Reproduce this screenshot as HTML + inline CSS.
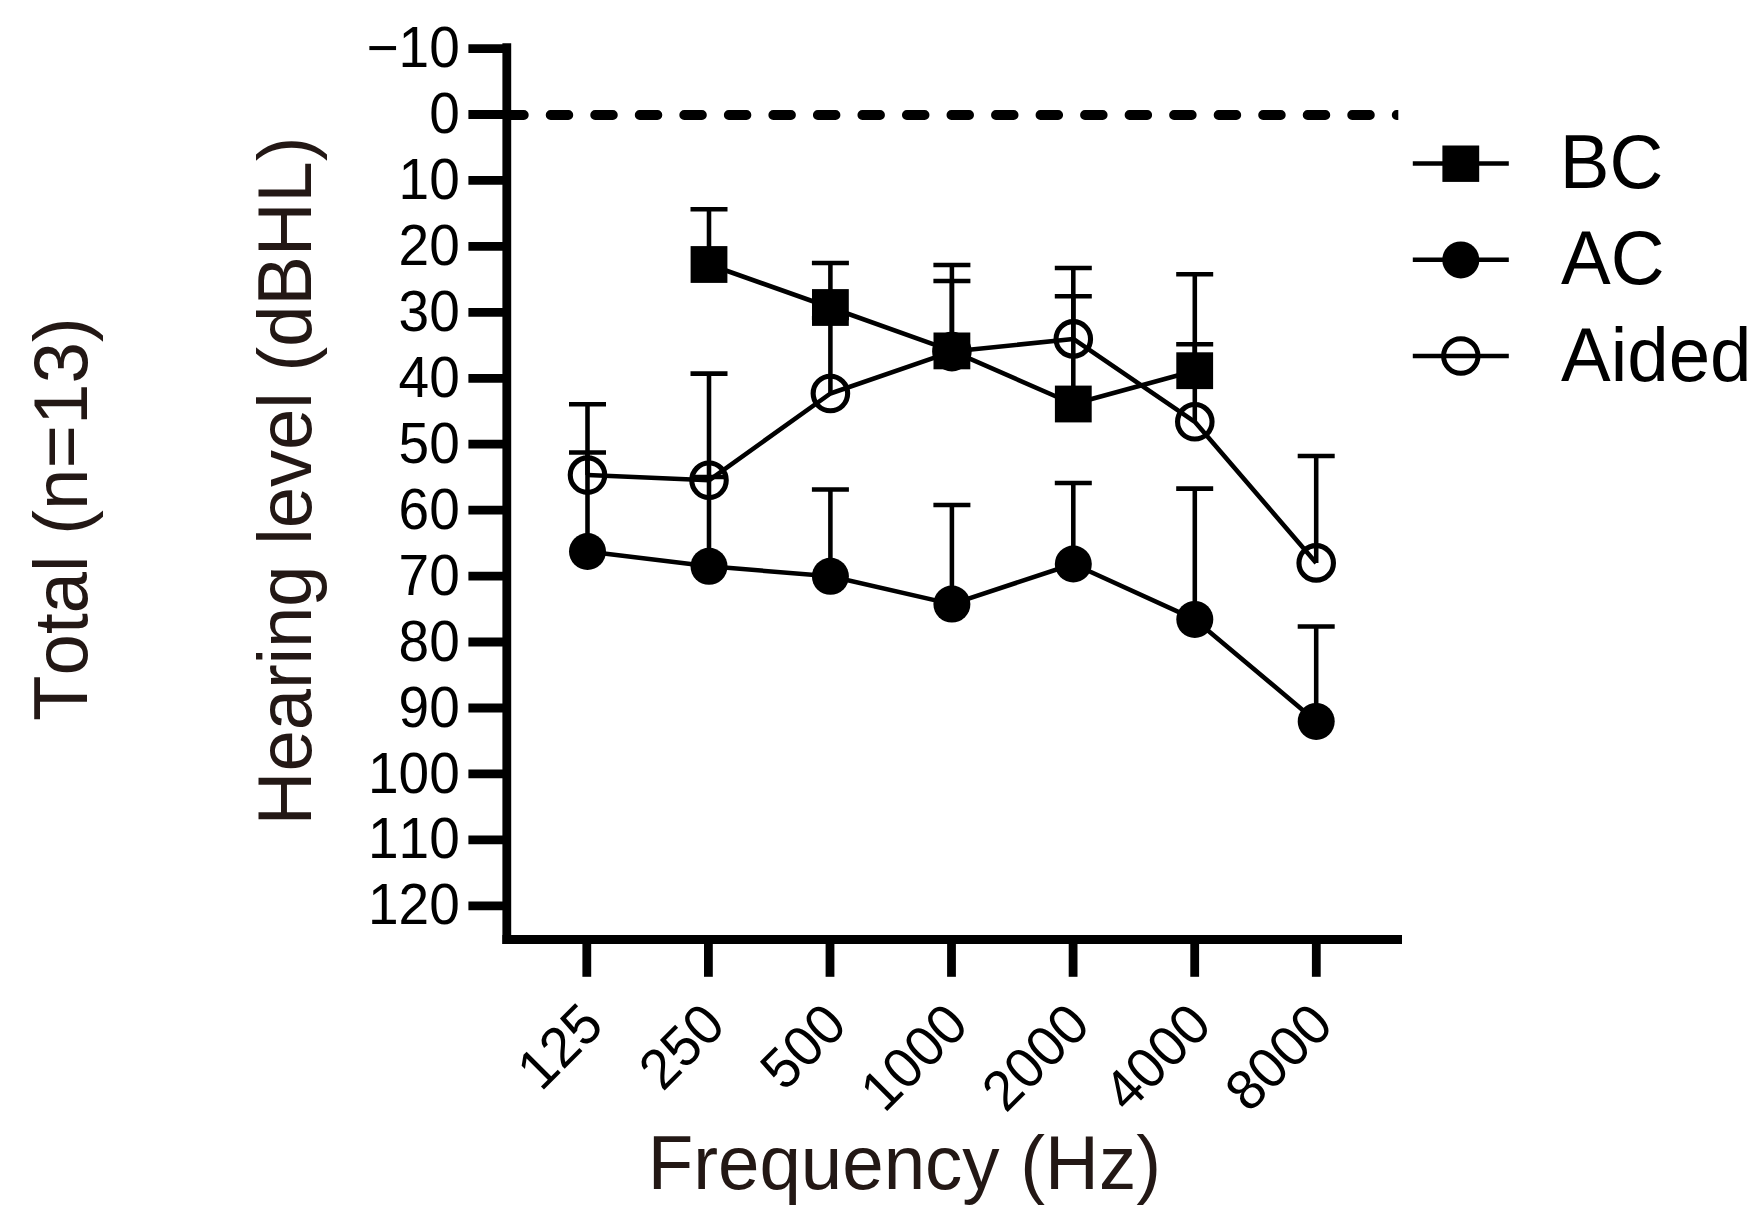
<!DOCTYPE html>
<html lang="en"><head><meta charset="utf-8"><title>Audiogram: Total (n=13)</title>
<style>html,body{margin:0;padding:0;background:#fff}body{width:1764px;height:1230px;overflow:hidden}svg{display:block}text{font-family:"Liberation Sans",Arial,Helvetica,sans-serif;font-kerning:none;font-variant-ligatures:none}</style>
</head><body>
<svg width="1764" height="1230" viewBox="0 0 1764 1230">
<rect width="1764" height="1230" fill="#fff"/>
<clipPath id="dashclip"><rect x="500" y="100" width="898.3" height="30"/></clipPath>
<line clip-path="url(#dashclip)" x1="506.1" y1="115" x2="1400" y2="115" stroke="#000" stroke-width="9.8" stroke-linecap="round" stroke-dasharray="17.7 26.83"/>
<g stroke="#000" stroke-width="8.8" fill="none" stroke-linecap="butt">
<line x1="506.8" y1="43.3" x2="506.8" y2="943.9"/>
<line x1="502.4" y1="939.5" x2="1402" y2="939.5"/>
<line x1="468.4" y1="48.6" x2="506.8" y2="48.6"/>
<line x1="468.4" y1="114.5" x2="506.8" y2="114.5"/>
<line x1="468.4" y1="180.4" x2="506.8" y2="180.4"/>
<line x1="468.4" y1="246.4" x2="506.8" y2="246.4"/>
<line x1="468.4" y1="312.3" x2="506.8" y2="312.3"/>
<line x1="468.4" y1="378.3" x2="506.8" y2="378.3"/>
<line x1="468.4" y1="444.2" x2="506.8" y2="444.2"/>
<line x1="468.4" y1="510.1" x2="506.8" y2="510.1"/>
<line x1="468.4" y1="576.1" x2="506.8" y2="576.1"/>
<line x1="468.4" y1="642.0" x2="506.8" y2="642.0"/>
<line x1="468.4" y1="708.0" x2="506.8" y2="708.0"/>
<line x1="468.4" y1="773.9" x2="506.8" y2="773.9"/>
<line x1="468.4" y1="839.8" x2="506.8" y2="839.8"/>
<line x1="468.4" y1="905.8" x2="506.8" y2="905.8"/>
<line x1="586.8" y1="939.5" x2="586.8" y2="976.8"/>
<line x1="708.4" y1="939.5" x2="708.4" y2="976.8"/>
<line x1="830.0" y1="939.5" x2="830.0" y2="976.8"/>
<line x1="951.5" y1="939.5" x2="951.5" y2="976.8"/>
<line x1="1073.1" y1="939.5" x2="1073.1" y2="976.8"/>
<line x1="1194.7" y1="939.5" x2="1194.7" y2="976.8"/>
<line x1="1316.3" y1="939.5" x2="1316.3" y2="976.8"/>
</g>
<g font-size="55" fill="#000" text-anchor="end">
<text transform="translate(459.8 67.2) scale(1 1.03)">−10</text>
<text transform="translate(459.8 133.1) scale(1 1.03)">0</text>
<text transform="translate(459.8 199.0) scale(1 1.03)">10</text>
<text transform="translate(459.8 265.0) scale(1 1.03)">20</text>
<text transform="translate(459.8 330.9) scale(1 1.03)">30</text>
<text transform="translate(459.8 396.9) scale(1 1.03)">40</text>
<text transform="translate(459.8 462.8) scale(1 1.03)">50</text>
<text transform="translate(459.8 528.7) scale(1 1.03)">60</text>
<text transform="translate(459.8 594.7) scale(1 1.03)">70</text>
<text transform="translate(459.8 660.6) scale(1 1.03)">80</text>
<text transform="translate(459.8 726.6) scale(1 1.03)">90</text>
<text transform="translate(459.8 792.5) scale(1 1.03)">100</text>
<text transform="translate(459.8 858.4) scale(1 1.03)">110</text>
<text transform="translate(459.8 924.4) scale(1 1.03)">120</text>
</g>
<g font-size="55" fill="#000" text-anchor="end">
<text transform="translate(606.0 1027.6) rotate(-45) scale(1 1.03)">125</text>
<text transform="translate(727.6 1027.6) rotate(-45) scale(1 1.03)">250</text>
<text transform="translate(849.2 1027.6) rotate(-45) scale(1 1.03)">500</text>
<text transform="translate(970.7 1027.6) rotate(-45) scale(1 1.03)">1000</text>
<text transform="translate(1092.3 1027.6) rotate(-45) scale(1 1.03)">2000</text>
<text transform="translate(1213.9 1027.6) rotate(-45) scale(1 1.03)">4000</text>
<text transform="translate(1335.5 1027.6) rotate(-45) scale(1 1.03)">8000</text>
</g>
<g fill="#231815">
<text font-size="74.5" transform="translate(647.7 1188.6) scale(1 1.03)">Frequency (Hz)</text>
<text font-size="74.2" transform="translate(311.2 825.2) rotate(-90) scale(1 1.03)">Hearing level (dBHL)</text>
<text font-size="74.5" transform="translate(87 721) rotate(-90) scale(1 1.03)">Total (n=13)</text>
</g>
<g stroke="#000" stroke-width="4.55" fill="none">
<path d="M587.5 475.1V404.2M569.0 404.2H606.0"/>
<path d="M709.0 480.3V373.6M690.5 373.6H727.5"/>
<path d="M830.4 393.5V318.0M811.9 318.0H848.9"/>
<path d="M951.9 351.6V281.0M933.4 281.0H970.4"/>
<path d="M1073.3 338.9V267.9M1054.8 267.9H1091.8"/>
<path d="M1194.8 421.8V344.2M1176.2 344.2H1213.2"/>
<path d="M1316.2 562.9V456.0M1297.7 456.0H1334.7"/>
<polyline points="587.5,475.1 709.0,480.3 830.4,393.5 951.9,351.6 1073.3,338.9 1194.8,421.8 1316.2,562.9" stroke-linejoin="round"/>
</g>
<circle cx="587.5" cy="475.1" r="17.25" fill="none" stroke="#000" stroke-width="5.1"/>
<circle cx="709.0" cy="480.3" r="17.25" fill="none" stroke="#000" stroke-width="5.1"/>
<circle cx="830.4" cy="393.5" r="17.25" fill="none" stroke="#000" stroke-width="5.1"/>
<circle cx="951.9" cy="351.6" r="17.25" fill="none" stroke="#000" stroke-width="5.1"/>
<circle cx="1073.3" cy="338.9" r="17.25" fill="none" stroke="#000" stroke-width="5.1"/>
<circle cx="1194.8" cy="421.8" r="17.25" fill="none" stroke="#000" stroke-width="5.1"/>
<circle cx="1316.2" cy="562.9" r="17.25" fill="none" stroke="#000" stroke-width="5.1"/>
<g stroke="#000" stroke-width="4.55" fill="none">
<path d="M587.5 551.5V452.5M569.0 452.5H606.0"/>
<path d="M709.0 566.3V477.0M690.5 477.0H727.5"/>
<path d="M830.4 576.3V489.5M811.9 489.5H848.9"/>
<path d="M951.9 604.1V505.0M933.4 505.0H970.4"/>
<path d="M1073.3 564.0V482.9M1054.8 482.9H1091.8"/>
<path d="M1194.8 619.4V488.6M1176.2 488.6H1213.2"/>
<path d="M1316.2 721.4V626.5M1297.7 626.5H1334.7"/>
<polyline points="587.5,551.5 709.0,566.3 830.4,576.3 951.9,604.1 1073.3,564.0 1194.8,619.4 1316.2,721.4" stroke-linejoin="round"/>
</g>
<circle cx="587.5" cy="551.5" r="18.5" fill="#000"/>
<circle cx="709.0" cy="566.3" r="18.5" fill="#000"/>
<circle cx="830.4" cy="576.3" r="18.5" fill="#000"/>
<circle cx="951.9" cy="604.1" r="18.5" fill="#000"/>
<circle cx="1073.3" cy="564.0" r="18.5" fill="#000"/>
<circle cx="1194.8" cy="619.4" r="18.5" fill="#000"/>
<circle cx="1316.2" cy="721.4" r="18.5" fill="#000"/>
<g stroke="#000" stroke-width="4.55" fill="none">
<path d="M709.0 264.5V209.2M690.5 209.2H727.5"/>
<path d="M830.4 307.5V263.0M811.9 263.0H848.9"/>
<path d="M951.9 350.9V264.9M933.4 264.9H970.4"/>
<path d="M1073.3 404.0V296.3M1054.8 296.3H1091.8"/>
<path d="M1194.8 370.7V274.2M1176.2 274.2H1213.2"/>
<polyline points="709.0,264.5 830.4,307.5 951.9,350.9 1073.3,404.0 1194.8,370.7" stroke-linejoin="round"/>
</g>
<rect x="690.6" y="246.1" width="36.8" height="36.8" fill="#000"/>
<rect x="812.0" y="289.1" width="36.8" height="36.8" fill="#000"/>
<rect x="933.5" y="332.5" width="36.8" height="36.8" fill="#000"/>
<rect x="1054.9" y="385.6" width="36.8" height="36.8" fill="#000"/>
<rect x="1176.3" y="352.3" width="36.8" height="36.8" fill="#000"/>
<g stroke="#000" stroke-width="4.5" fill="none">
<line x1="1412.8" y1="163.4" x2="1508.8" y2="163.4"/>
<line x1="1412.8" y1="259.7" x2="1508.8" y2="259.7"/>
<line x1="1412.8" y1="356.0" x2="1508.8" y2="356.0"/>
</g>
<rect x="1442.4" y="145.5" width="36.8" height="36.4" fill="#000"/>
<circle cx="1460.8" cy="259.9" r="18.5" fill="#000"/>
<circle cx="1460.8" cy="356.0" r="17.2" fill="none" stroke="#000" stroke-width="5"/>
<g font-size="74.5" fill="#000">
<text transform="translate(1559.8 187.9) scale(1 1.03)">BC</text>
<text transform="translate(1561 284.2) scale(1 1.03)">AC</text>
<text transform="translate(1561 380.6) scale(1 1.03)">Aided</text>
</g>
</svg></body></html>
